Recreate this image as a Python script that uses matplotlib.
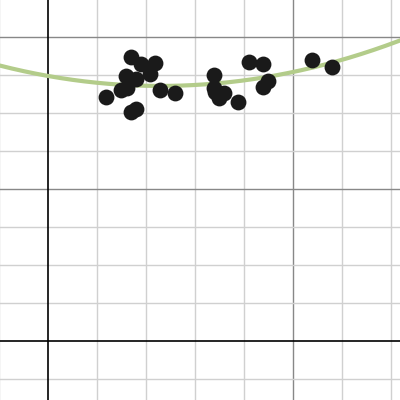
import numpy as np
import matplotlib
matplotlib.use("Agg")
import matplotlib.pyplot as plt

xs = [1.18,1.69,1.90,2.18,1.59,1.80,2.08,1.49,1.61,2.29,2.59,1.69,1.80,3.39,3.39,3.41,3.59,3.49,3.88,4.10,4.39,4.39,4.49,5.39,5.80]
ys = [6.42,7.47,7.29,7.32,6.97,6.89,7.03,6.61,6.66,6.61,6.53,6.03,6.11,7.00,6.66,6.55,6.53,6.39,6.29,7.34,7.29,6.68,6.84,7.39,7.21]
curve_a, curve_h, curve_k = 0.05, 2.29, 6.71

fig = plt.figure(figsize=(4,4), dpi=100)
ax = fig.add_axes([0,0,1,1])
xmin, xmax, ymin, ymax = -0.98, 7.18, -1.55, 8.97
for gx in range(-1, 8):
    if gx == 0: continue
    ax.axvline(gx, color='#888888' if gx % 5 == 0 else '#d0d0d0', lw=1, zorder=0)
for gy in range(-1, 9):
    if gy == 0: continue
    ax.axhline(gy, color='#888888' if gy % 4 == 0 else '#d0d0d0', lw=1, zorder=0)
ax.axvline(0, color='black', lw=1.2, zorder=1)
ax.axhline(0, color='black', lw=1.2, zorder=1)
cx = np.linspace(xmin, xmax, 300)
ax.plot(cx, curve_a*(cx-curve_h)**2 + curve_k, color='#b3cc8a', lw=3, zorder=2)
ax.scatter(xs, ys, s=130, color='#1a1a1a', zorder=3, linewidths=0)
ax.set_xlim(xmin, xmax); ax.set_ylim(ymin, ymax)
ax.axis('off')
fig.savefig('out.png', dpi=100)
